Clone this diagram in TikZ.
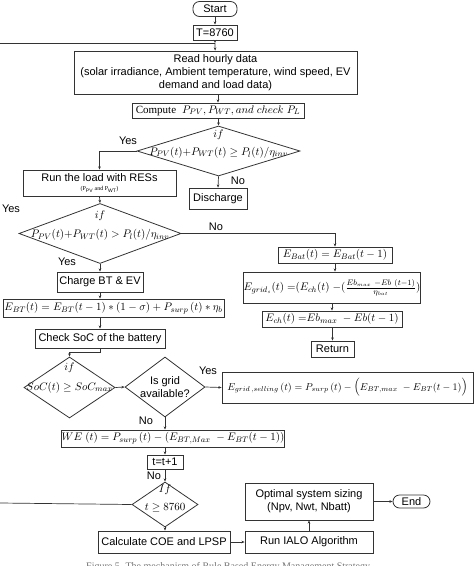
\documentclass[tikz,border=0pt]{standalone}
\usepackage{fontspec}
\setmainfont{Liberation Sans}
\newfontfamily\seriffont{Liberation Serif}
\usetikzlibrary{arrows.meta,shapes.geometric}
\begin{document}
\begin{tikzpicture}[x=1pt,y=-1pt,
  line/.style={draw=black!80, line width=0.7pt},
  arr/.style={line, -{Stealth[length=3.2pt,width=2.6pt]}},
  box/.style={draw=black!80, line width=0.8pt, rectangle, inner sep=0pt, align=center, font=\fontsize{11}{13}\selectfont},
  sz/.style 2 args={minimum width=#1pt, minimum height=#2pt},
  term/.style={box, rounded corners=6.5pt},
  dia/.style={draw=black!80, line width=0.8pt, diamond, inner sep=0pt},
  lbl/.style={font=\fontsize{11}{13}\selectfont, inner sep=0pt},
  mth/.style={font=\fontsize{11}{13}\selectfont, inner sep=0pt, align=center}
]
\useasboundingbox (0,0) rectangle (474,566);

% top
\node[term, sz={44}{15}] (start) at (215,9) {Start};
\node[box, sz={44}{15}] (T) at (215,32.5) {T=8760};
\coordinate (j1) at (215,43);
\node[box, sz={283}{43}] (read) at (215.5,72.5) {Read hourly data\\(solar irradiance, Ambient temperature, wind speed, EV\\demand and load data)};
\node[box, sz={172}{15}] (comp) at (218,110.5) {{\seriffont Compute}\ \ $P_{PV}, P_{WT}, and\ check\ P_L$};

% diamond 1
\node[dia, sz={163}{50}] (d1) at (218.5,151) {};
\node[mth] (d1if) at (218.5,135) {$if$};
\node[mth] (d1t) at (218.5,152.5) {$P_{PV}(t){+}P_{WT}(t) \geq P_l(t)/\eta_{inv}$};
\node[lbl] (y1) at (128,141) {Yes};
\node[lbl] (n1) at (238,181) {No};
\node[box, sz={153}{26}] (run) at (99.5,183) {Run the load with RESs\\[-4pt]{\seriffont\fontsize{6}{7}\selectfont (P$_{\mathrm{PV}}$ and P$_{\mathrm{WT}}$)}};
\node[box, sz={58}{21}] (dis) at (218,198.5) {Discharge};

% diamond 2
\node[dia, sz={162}{60}] (d2) at (100,233.5) {};
\node[mth] (d2if) at (100,216) {$if$};
\node[mth] (d2t) at (100,235) {$P_{PV}(t){+}P_{WT}(t) > P_l(t)/\eta_{inv}$};
\node[lbl] (y0) at (11,209) {Yes};
\node[lbl] (n2) at (216,227) {No};
\node[lbl] (y2) at (67,262) {Yes};

% right column
\node[box, sz={114}{16}] (ebat) at (335,255) {$E_{Bat}(t) = E_{Bat}(t-1)$};
\node[box, sz={174}{31}] (egrid) at (332,287.5) {$E_{grid_s}(t)\ {=}(E_{ch}(t)\ {-}(\frac{Eb_{max}\ -Eb\ (t-1)}{\eta_{bat}})$};
\node[box, sz={140}{16}] (ech) at (332,319) {$E_{ch}(t)\ {=}Eb_{max}\ - Eb(t-1)$};
\node[box, sz={43}{16}] (ret) at (332.5,349) {Return};

% left column
\node[box, sz={86}{20}] (charge) at (100,282) {Charge BT \& EV};
\node[box, sz={221}{18}] (ebt) at (113.5,308) {$E_{BT}(t) = E_{BT}(t-1) * (1-\sigma) + P_{surp}\,(t) * \eta_b$};
\node[box, sz={130}{19}] (check) at (100,338.5) {Check SoC of the battery};

% diamonds 3,4
\node[dia, sz={91}{61}] (d3) at (69.5,387.5) {};
\node[mth] (d3if) at (69.5,368) {$if$};
\node[mth] (d3t) at (69.5,387.5) {$SoC(t) \geq SoC_{max}$};
\node[dia, sz={80}{60}] (d4) at (165,387) {};
\node[mth] (d4t) at (165,387.5) {Is grid\\available?};
\node[lbl] (y4) at (208,371) {Yes};
\node[lbl] (n4) at (146,421) {No};
\node[box, sz={251}{31}, font=\fontsize{10}{12}\selectfont] (esell) at (347.5,387.5) {$E_{grid\,,selling}\,(t) = P_{surp}\,(t) - \Bigl(E_{BT,max}\ - E_{BT}(t-1)\Bigr)$};

\node[box, sz={220}{17}] (we) at (173,438.5) {$WE\ (t) = P_{surp}\,(t) - (E_{BT,Max}\ - E_{BT}(t-1))$};
\node[box, sz={36}{14}] (tt) at (165,462) {t=t+1};
\node[lbl] (n5) at (154,476) {No};

% diamond 5
\node[dia, sz={66}{45}] (d5) at (165,504.5) {};
\node[mth] (d5if) at (165,490) {$If$};
\node[mth] (d5t) at (165,508) {$t \geq 8760$};
\coordinate (lft5) at (0,503);

% bottom
\node[box, sz={132}{22}] (calc) at (164,542) {Calculate COE and LPSP};
\node[box, sz={128}{22}] (ialo) at (309,542) {Run IALO Algorithm};
\node[box, sz={128}{37}] (opt) at (309,501.5) {Optimal system sizing\\(Npv, Nwt, Nbatt)};
\node[term, sz={37}{13}] (endn) at (411.5,501.5) {End};

\node[anchor=north west, inner sep=0pt, font=\seriffont\fontsize{10}{12}\selectfont, text=black!55] (cap) at (86,562.5) {Figure 5. The mechanism of Rule Based Energy Management Strategy};

% connectors
\coordinate (lft1) at (0,43);
\draw[arr] (start) -- (T);
\draw[arr] (T) -- (j1);
\draw[line] (lft1) -- (j1);
\draw[arr] (j1) -- (read);
\draw[arr] (comp.north |- read.south) -- (comp.north);
\draw[arr] (comp.south -| d1.north) -- (d1.north);
\draw[arr] (d1.west) -| (run.north);
\draw[arr] (d1.south) -- (dis.north);
\draw[arr] (run.south) -- (d2.north);
\draw[arr] (d2.east) -| (ebat.north);
\draw[arr] (ebat.south) -- (ebat.south |- egrid.north);
\draw[arr] (egrid.south -| ech.north) -- (ech.north);
\draw[arr] (ech.south -| ret.north) -- (ret.north);
\draw[arr] (d2.south) -- (charge.north);
\draw[arr] (charge.south) -- (charge.south |- ebt.north);
\draw[arr] (ebt.south -| check.north) -- (check.north);
\draw[arr] (check.south) -- ++(0,4) -| (d3.north);
\draw[arr] (d3.east) -- (d4.west);
\draw[arr] (d4.east) -- (esell.west);
\draw[arr] (d4.south) -- (d4.south |- we.north);
\draw[arr] (we.south -| tt.north) -- (tt.north);
\draw[arr] (tt.south) -- (d5.north);
\draw[line] (d5.west) -- (lft5);
\draw[arr] (d5.south) -- (d5.south |- calc.north);
\draw[arr] (calc.east) -- (ialo.west);
\draw[arr] (ialo.north) -- (opt.south);
\draw[arr] (opt.east) -- (endn.west);
\end{tikzpicture}
\end{document}
